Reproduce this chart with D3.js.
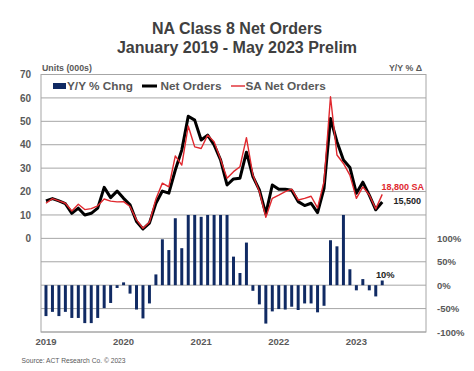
<!DOCTYPE html>
<html>
<head>
<meta charset="utf-8">
<script src="https://cdn.jsdelivr.net/npm/d3@7"></script>
<style>
  body { margin: 0; background: #fff; }
  svg { display: block; font-family: "Liberation Sans", Arial, sans-serif; }
</style>
</head>
<body>
<div id="chart"></div>
<script>
// monthly values, Jan 2019 - May 2023
var netOrders = [16, 17, 16, 14.8, 10.7, 12.9, 10, 10.7, 12.9, 21.8, 17.4, 20.2,
                 17.1, 14.3, 7.2, 4, 6.5, 15, 20.2, 19.3, 29.2, 37.7, 52.2, 50.5,
                 42, 44.1, 39.9, 33.5, 22.8, 25.4, 25.7, 36.8, 26.4, 20.7, 10.5, 22.8,
                 21, 21, 20.6, 15.7, 14, 15, 11, 21.4, 51.2, 41.3, 33.5, 30.3,
                 19.3, 24, 18.5, 12.2, 15.5];
var saNetOrders = [15, 17, 16, 15, 11.7, 14.6, 12.3, 12.7, 13.9, 16.8, 15.9, 15.6,
                   15.7, 13.6, 7.9, 4.3, 6.9, 16.8, 23.6, 22, 35.2, 31.3, 48, 39.1,
                   38.4, 44.1, 41.3, 33.8, 25.7, 28.5, 30.6, 43, 27.1, 20, 9, 17.1,
                   18.5, 20, 21, 16.4, 17.1, 18, 13, 24.2, 60.5, 35.6, 32, 27,
                   17.1, 22, 18.5, 12.6, 18.8];
var yoyChange = [-66, -57, -66, -57, -70, -70, -81, -81, -70, -49, -38, -6,
                 6, -18, -52, -71, -39, 23, 98, 75, 143, 79, 150, 150,
                 146, 150, 150, 150, 150, 61, 26, 91, -12, -41, -82, -56,
                 -51, -52, -46, -53, -39, -39, -58, -44, 96, 83, 150, 34,
                 -11, 13, -11, -24, 10];
var yearLabels = ["2019", "2020", "2021", "2022", "2023"];
var leftTicks = [0, 10, 20, 30, 40, 50, 60, 70];
var rightTicks = [-100, -50, 0, 50, 100];

var W = 474, H = 371;
var plot = {left: 41, right: 426, top: 74.5, bottom: 332};

var svg = d3.select("#chart")
  .append("svg")
    .attr("width", W)
    .attr("height", H);

// month slots run on to Nov 2023
var months = d3.timeMonth.range(new Date(2019, 0, 1), new Date(2023, 11, 1));
var fmt = d3.timeFormat("%Y-%m");

var x = d3.scaleBand()
  .domain(months.map(fmt))
  .range([plot.left, plot.right])
  .padding(0.54);

var yL = d3.scaleLinear()
  .domain([-40, 70])
  .range([plot.bottom, plot.top]);

var yR = d3.scaleLinear()
  .domain([-100, 450])
  .range([plot.bottom, plot.top]);

var cx = function(i) { return x(fmt(months[i])) + x.bandwidth() / 2; };

// title
svg.append("text")
  .attr("x", 237).attr("y", 34)
  .attr("text-anchor", "middle")
  .style("font-size", "16px").style("font-weight", "bold")
  .attr("fill", "#404040")
  .text("NA Class 8 Net Orders");
svg.append("text")
  .attr("x", 237).attr("y", 53)
  .attr("text-anchor", "middle")
  .style("font-size", "16px").style("font-weight", "bold")
  .attr("fill", "#404040")
  .text("January 2019 - May 2023 Prelim");

svg.append("text")
  .attr("x", 42).attr("y", 70.5)
  .style("font-size", "8.8px").style("font-weight", "bold")
  .attr("fill", "#595959")
  .text("Units (000s)");
svg.append("text")
  .attr("x", 422).attr("y", 70.5)
  .attr("text-anchor", "end")
  .style("font-size", "8.8px").style("font-weight", "bold")
  .attr("fill", "#595959")
  .text("Y/Y % \u0394");

// grid
svg.append("g")
  .selectAll("line")
  .data(d3.range(-40, 71, 10))
  .enter()
  .append("line")
    .attr("x1", plot.left).attr("x2", plot.right)
    .attr("y1", function(d) { return yL(d); })
    .attr("y2", function(d) { return yL(d); })
    .attr("stroke", "#a6a6a6")
    .attr("stroke-width", 1);

svg.append("rect")
  .attr("x", plot.left).attr("y", plot.top)
  .attr("width", plot.right - plot.left)
  .attr("height", plot.bottom - plot.top)
  .attr("fill", "none")
  .attr("stroke", "#a6a6a6");

// left axis
var leftAxis = svg.append("g")
  .attr("transform", "translate(" + (plot.left - 7) + ",0)")
  .call(d3.axisLeft(yL).tickValues(leftTicks).tickSize(0));
leftAxis.select(".domain").remove();
leftAxis.selectAll("text")
  .style("font-size", "10px").style("font-weight", "bold")
  .attr("fill", "#595959")
  .style("font-family", "Liberation Sans, Arial, sans-serif");

// right axis
var rightAxis = svg.append("g")
  .attr("transform", "translate(" + (plot.right + 8) + ",0)")
  .call(d3.axisRight(yR).tickValues(rightTicks).tickSize(0)
    .tickFormat(function(d) { return d + "%"; }));
rightAxis.select(".domain").remove();
rightAxis.selectAll("text")
  .style("font-size", "9.5px").style("font-weight", "bold")
  .attr("fill", "#595959")
  .style("font-family", "Liberation Sans, Arial, sans-serif");

// year labels under January
svg.append("g")
  .selectAll("text")
  .data(yearLabels)
  .enter()
  .append("text")
    .attr("x", function(d, i) { return cx(i * 12); })
    .attr("y", 345)
    .attr("text-anchor", "middle")
    .style("font-size", "9.5px").style("font-weight", "bold")
    .attr("fill", "#595959")
    .text(function(d) { return d; });

// Y/Y bars
svg.append("g")
  .selectAll("rect")
  .data(yoyChange)
  .enter()
  .append("rect")
    .attr("x", function(d, i) { return x(fmt(months[i])); })
    .attr("y", function(d) { return yR(Math.max(d, 0)); })
    .attr("width", x.bandwidth())
    .attr("height", function(d) { return Math.abs(yR(d) - yR(0)); })
    .attr("fill", "#102a63");

// lines
var line = d3.line()
  .x(function(d, i) { return cx(i); })
  .y(function(d) { return yL(d); });

svg.append("path")
  .datum(netOrders)
  .attr("d", line)
  .attr("fill", "none")
  .attr("stroke", "#000")
  .attr("stroke-width", 3)
  .attr("stroke-linejoin", "round");

svg.append("path")
  .datum(saNetOrders)
  .attr("d", line)
  .attr("fill", "none")
  .attr("stroke", "#e0282e")
  .attr("stroke-width", 1.4)
  .attr("stroke-linejoin", "round");

// end labels
var last = netOrders.length - 1;
svg.append("text")
  .attr("x", 424).attr("y", yL(saNetOrders[last]) - 4)
  .attr("text-anchor", "end")
  .style("font-size", "9px").style("font-weight", "bold")
  .attr("fill", "#e0282e")
  .text("18,800 SA");
svg.append("text")
  .attr("x", 421).attr("y", yL(netOrders[last]) + 1.5)
  .attr("text-anchor", "end")
  .style("font-size", "9px").style("font-weight", "bold")
  .attr("fill", "#222")
  .text("15,500");
svg.append("text")
  .attr("x", cx(last) + 3).attr("y", yR(yoyChange[last]) - 3)
  .attr("text-anchor", "middle")
  .style("font-size", "9.3px").style("font-weight", "bold")
  .attr("fill", "#222")
  .text("10%");

// legend
var lg = svg.append("g").attr("transform", "translate(0,86)");
lg.append("rect")
  .attr("x", 53).attr("y", -3).attr("width", 13).attr("height", 6)
  .attr("fill", "#102a63");
lg.append("text")
  .attr("x", 67).attr("y", 4.2)
  .style("font-size", "11.8px").style("font-weight", "bold")
  .attr("fill", "#595959")
  .text("Y/Y % Chng");
lg.append("line")
  .attr("x1", 142).attr("x2", 157).attr("y1", 0).attr("y2", 0)
  .attr("stroke", "#000").attr("stroke-width", 3);
lg.append("text")
  .attr("x", 160.5).attr("y", 4.2)
  .style("font-size", "11.8px").style("font-weight", "bold")
  .attr("fill", "#595959")
  .text("Net Orders");
lg.append("line")
  .attr("x1", 231).attr("x2", 245).attr("y1", 0).attr("y2", 0)
  .attr("stroke", "#e0282e").attr("stroke-width", 1.4);
lg.append("text")
  .attr("x", 245.5).attr("y", 4.2)
  .style("font-size", "11.8px").style("font-weight", "bold")
  .attr("fill", "#595959")
  .text("SA Net Orders");

// source
svg.append("text")
  .attr("x", 21.5).attr("y", 363)
  .style("font-size", "6.7px")
  .attr("fill", "#595959")
  .text("Source: ACT Research Co. \u00a9 2023");
</script>
</body>
</html>
